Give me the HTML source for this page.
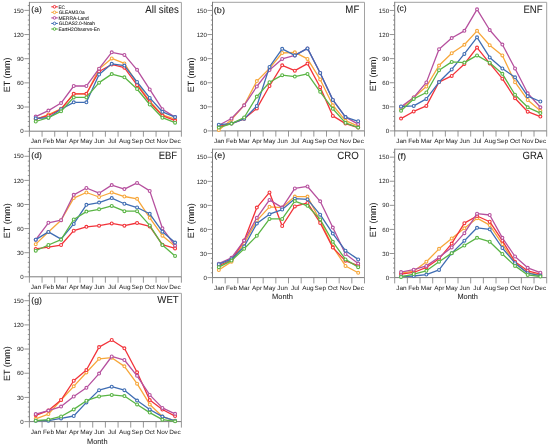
<!DOCTYPE html>
<html><head><meta charset="utf-8"><title>ET seasonal cycles</title>
<style>
html,body{margin:0;padding:0;background:#fff;}
body{width:550px;height:446px;overflow:hidden;}
svg{display:block;filter:blur(0.3px);font-family:"Liberation Sans",sans-serif;text-rendering:geometricPrecision;}
text{stroke:#222;stroke-width:0.05px;}
.sm text{stroke:none;}
.lg text{stroke:#222;stroke-width:0.08px;}
.pl text{stroke-width:0.1px;}
</style></head><body>
<svg width="550" height="446" viewBox="0 0 550 446">
<rect width="550" height="446" fill="#ffffff"/>
<g><path d="M29.4 2.4H181.4V131.2" fill="none" stroke="#a2a2a2" stroke-width="1.0"/><path d="M29.4 1.9V131.2H181.4" fill="none" stroke="#7c7c7c" stroke-width="1.0"/><path d="M24.4 131.2H29.4M27.8 126.37H29.4M27.8 121.53H29.4M27.8 116.7H29.4M27.8 111.87H29.4M24.4 107.03H29.4M27.8 102.2H29.4M27.8 97.37H29.4M27.8 92.54H29.4M27.8 87.7H29.4M24.4 82.87H29.4M27.8 78.04H29.4M27.8 73.2H29.4M27.8 68.37H29.4M27.8 63.54H29.4M24.4 58.7H29.4M27.8 53.87H29.4M27.8 49.04H29.4M27.8 44.21H29.4M27.8 39.37H29.4M24.4 34.54H29.4M27.8 29.71H29.4M27.8 24.87H29.4M27.8 20.04H29.4M27.8 15.21H29.4M24.4 10.37H29.4M27.8 5.54H29.4M29.4 131.2V136.7M42.07 131.2V136.7M54.73 131.2V136.7M67.4 131.2V136.7M80.07 131.2V136.7M92.73 131.2V136.7M105.4 131.2V136.7M118.07 131.2V136.7M130.73 131.2V136.7M143.4 131.2V136.7M156.07 131.2V136.7M168.73 131.2V136.7M181.4 131.2V136.7" stroke="#7c7c7c" stroke-width="0.8" fill="none"/><g class="sm" font-size="6.1" fill="#222"><text x="20.35" y="133.35">0</text><text x="16.95" y="109.19">30</text><text x="16.95" y="85.02">60</text><text x="16.95" y="60.85">90</text><text x="13.56" y="36.69">120</text><text x="13.56" y="12.52">150</text></g><g class="sm" fill="#222"><text x="30.88" y="143.3" font-size="6.1" textLength="10.43" lengthAdjust="spacingAndGlyphs">Jan</text><text x="42.9" y="143.3" font-size="6.1" textLength="11.14" lengthAdjust="spacingAndGlyphs">Feb</text><text x="55.49" y="143.3" font-size="6.1" textLength="11.14" lengthAdjust="spacingAndGlyphs">Mar</text><text x="68.95" y="143.3" font-size="6.1" textLength="10.06" lengthAdjust="spacingAndGlyphs">Apr</text><text x="80.23" y="143.3" font-size="6.1" textLength="12.22" lengthAdjust="spacingAndGlyphs">May</text><text x="94.21" y="143.3" font-size="6.1" textLength="10.43" lengthAdjust="spacingAndGlyphs">Jun</text><text x="107.97" y="143.3" font-size="6.1" textLength="8.27" lengthAdjust="spacingAndGlyphs">Jul</text><text x="119.05" y="143.3" font-size="6.1" textLength="11.5" lengthAdjust="spacingAndGlyphs">Aug</text><text x="131.5" y="143.3" font-size="6.1" textLength="11.5" lengthAdjust="spacingAndGlyphs">Sep</text><text x="144.77" y="143.3" font-size="6.1" textLength="10.06" lengthAdjust="spacingAndGlyphs">Oct</text><text x="156.6" y="143.3" font-size="6.1" textLength="11.5" lengthAdjust="spacingAndGlyphs">Nov</text><text x="169.34" y="143.3" font-size="6.1" textLength="11.5" lengthAdjust="spacingAndGlyphs">Dec</text></g><text transform="translate(9.6 92.34) rotate(-90)" font-size="9" fill="#222">ET (mm)</text><g class="pl" fill="#222"><text x="31.37" y="12.24" font-size="8.4" textLength="10.35" lengthAdjust="spacingAndGlyphs">(a)</text></g><g fill="#222"><text transform="translate(145.33 12.6) scale(1 1.08)" font-size="9.8" textLength="33.47" lengthAdjust="spacingAndGlyphs">All sites</text></g><path d="M35.73 119.26 L48.4 114.52 L61.07 108.81 L73.73 93.96 L86.4 93.96 L99.07 69.06 L111.73 58.46 L124.4 63.44 L137.07 83.52 L149.73 101.19 L162.4 114.84 L175.07 119.17" stroke="#f7a73b" stroke-width="1.3" fill="none" stroke-linejoin="round"/><g fill="#ffffff" stroke="#f7a73b" stroke-width="1.1"><circle cx="35.73" cy="119.26" r="1.45"/><circle cx="48.4" cy="114.52" r="1.45"/><circle cx="61.07" cy="108.81" r="1.45"/><circle cx="73.73" cy="93.96" r="1.45"/><circle cx="86.4" cy="93.96" r="1.45"/><circle cx="99.07" cy="69.06" r="1.45"/><circle cx="111.73" cy="58.46" r="1.45"/><circle cx="124.4" cy="63.44" r="1.45"/><circle cx="137.07" cy="83.52" r="1.45"/><circle cx="149.73" cy="101.19" r="1.45"/><circle cx="162.4" cy="114.84" r="1.45"/><circle cx="175.07" cy="119.17" r="1.45"/></g><path d="M35.73 119.09 L48.4 115.48 L61.07 109.14 L73.73 93.8 L86.4 93.8 L99.07 71.47 L111.73 64.48 L124.4 67.7 L137.07 85.2 L149.73 102.23 L162.4 115.64 L175.07 120.54" stroke="#f2333a" stroke-width="1.3" fill="none" stroke-linejoin="round"/><g fill="#ffffff" stroke="#f2333a" stroke-width="1.1"><circle cx="35.73" cy="119.09" r="1.45"/><circle cx="48.4" cy="115.48" r="1.45"/><circle cx="61.07" cy="109.14" r="1.45"/><circle cx="73.73" cy="93.8" r="1.45"/><circle cx="86.4" cy="93.8" r="1.45"/><circle cx="99.07" cy="71.47" r="1.45"/><circle cx="111.73" cy="64.48" r="1.45"/><circle cx="124.4" cy="67.7" r="1.45"/><circle cx="137.07" cy="85.2" r="1.45"/><circle cx="149.73" cy="102.23" r="1.45"/><circle cx="162.4" cy="115.64" r="1.45"/><circle cx="175.07" cy="120.54" r="1.45"/></g><path d="M35.73 116.6 L48.4 110.58 L61.07 103.03 L73.73 86.01 L86.4 86.01 L99.07 68.66 L111.73 52.36 L124.4 54.93 L137.07 69.86 L149.73 89.38 L162.4 109.22 L175.07 117.09" stroke="#b6509e" stroke-width="1.3" fill="none" stroke-linejoin="round"/><g fill="#ffffff" stroke="#b6509e" stroke-width="1.1"><circle cx="35.73" cy="116.6" r="1.45"/><circle cx="48.4" cy="110.58" r="1.45"/><circle cx="61.07" cy="103.03" r="1.45"/><circle cx="73.73" cy="86.01" r="1.45"/><circle cx="86.4" cy="86.01" r="1.45"/><circle cx="99.07" cy="68.66" r="1.45"/><circle cx="111.73" cy="52.36" r="1.45"/><circle cx="124.4" cy="54.93" r="1.45"/><circle cx="137.07" cy="69.86" r="1.45"/><circle cx="149.73" cy="89.38" r="1.45"/><circle cx="162.4" cy="109.22" r="1.45"/><circle cx="175.07" cy="117.09" r="1.45"/></g><path d="M35.73 118.29 L48.4 117.73 L61.07 109.22 L73.73 102.31 L86.4 102.31 L99.07 74.52 L111.73 63.84 L124.4 65.61 L137.07 81.99 L149.73 97.89 L162.4 111.79 L175.07 117.09" stroke="#3f6db3" stroke-width="1.3" fill="none" stroke-linejoin="round"/><g fill="#ffffff" stroke="#3f6db3" stroke-width="1.1"><circle cx="35.73" cy="118.29" r="1.45"/><circle cx="48.4" cy="117.73" r="1.45"/><circle cx="61.07" cy="109.22" r="1.45"/><circle cx="73.73" cy="102.31" r="1.45"/><circle cx="86.4" cy="102.31" r="1.45"/><circle cx="99.07" cy="74.52" r="1.45"/><circle cx="111.73" cy="63.84" r="1.45"/><circle cx="124.4" cy="65.61" r="1.45"/><circle cx="137.07" cy="81.99" r="1.45"/><circle cx="149.73" cy="97.89" r="1.45"/><circle cx="162.4" cy="111.79" r="1.45"/><circle cx="175.07" cy="117.09" r="1.45"/></g><path d="M35.73 121.5 L48.4 117.73 L61.07 111.3 L73.73 97.41 L86.4 97.41 L99.07 82.63 L111.73 74.12 L124.4 77.33 L137.07 88.98 L149.73 104.48 L162.4 117.73 L175.07 122.63" stroke="#5ab545" stroke-width="1.3" fill="none" stroke-linejoin="round"/><g fill="#ffffff" stroke="#5ab545" stroke-width="1.1"><circle cx="35.73" cy="121.5" r="1.45"/><circle cx="48.4" cy="117.73" r="1.45"/><circle cx="61.07" cy="111.3" r="1.45"/><circle cx="73.73" cy="97.41" r="1.45"/><circle cx="86.4" cy="97.41" r="1.45"/><circle cx="99.07" cy="82.63" r="1.45"/><circle cx="111.73" cy="74.12" r="1.45"/><circle cx="124.4" cy="77.33" r="1.45"/><circle cx="137.07" cy="88.98" r="1.45"/><circle cx="149.73" cy="104.48" r="1.45"/><circle cx="162.4" cy="117.73" r="1.45"/><circle cx="175.07" cy="122.63" r="1.45"/></g></g>
<g><path d="M212.5 2.3H364.5V130.9" fill="none" stroke="#a2a2a2" stroke-width="1.0"/><path d="M212.5 1.8V130.9H364.5" fill="none" stroke="#7c7c7c" stroke-width="1.0"/><path d="M207.5 130.9H212.5M210.9 126.08H212.5M210.9 121.26H212.5M210.9 116.45H212.5M210.9 111.63H212.5M207.5 106.81H212.5M210.9 101.99H212.5M210.9 97.17H212.5M210.9 92.36H212.5M210.9 87.54H212.5M207.5 82.72H212.5M210.9 77.9H212.5M210.9 73.08H212.5M210.9 68.27H212.5M210.9 63.45H212.5M207.5 58.63H212.5M210.9 53.81H212.5M210.9 48.99H212.5M210.9 44.18H212.5M210.9 39.36H212.5M207.5 34.54H212.5M210.9 29.72H212.5M210.9 24.9H212.5M210.9 20.09H212.5M210.9 15.27H212.5M207.5 10.45H212.5M210.9 5.63H212.5M212.5 130.9V136.6M225.17 130.9V136.6M237.83 130.9V136.6M250.5 130.9V136.6M263.17 130.9V136.6M275.83 130.9V136.6M288.5 130.9V136.6M301.17 130.9V136.6M313.83 130.9V136.6M326.5 130.9V136.6M339.17 130.9V136.6M351.83 130.9V136.6M364.5 130.9V136.6" stroke="#7c7c7c" stroke-width="0.8" fill="none"/><g class="sm" font-size="6.1" fill="#222"><text x="203.45" y="133.05">0</text><text x="200.05" y="108.96">30</text><text x="200.05" y="84.87">60</text><text x="200.05" y="60.78">90</text><text x="196.66" y="36.69">120</text><text x="196.66" y="12.6">150</text></g><g class="sm" fill="#222"><text x="213.98" y="143.3" font-size="6.1" textLength="10.43" lengthAdjust="spacingAndGlyphs">Jan</text><text x="226" y="143.3" font-size="6.1" textLength="11.14" lengthAdjust="spacingAndGlyphs">Feb</text><text x="238.59" y="143.3" font-size="6.1" textLength="11.14" lengthAdjust="spacingAndGlyphs">Mar</text><text x="252.05" y="143.3" font-size="6.1" textLength="10.06" lengthAdjust="spacingAndGlyphs">Apr</text><text x="263.33" y="143.3" font-size="6.1" textLength="12.22" lengthAdjust="spacingAndGlyphs">May</text><text x="277.31" y="143.3" font-size="6.1" textLength="10.43" lengthAdjust="spacingAndGlyphs">Jun</text><text x="291.07" y="143.3" font-size="6.1" textLength="8.27" lengthAdjust="spacingAndGlyphs">Jul</text><text x="302.15" y="143.3" font-size="6.1" textLength="11.5" lengthAdjust="spacingAndGlyphs">Aug</text><text x="314.6" y="143.3" font-size="6.1" textLength="11.5" lengthAdjust="spacingAndGlyphs">Sep</text><text x="327.87" y="143.3" font-size="6.1" textLength="10.06" lengthAdjust="spacingAndGlyphs">Oct</text><text x="339.7" y="143.3" font-size="6.1" textLength="11.5" lengthAdjust="spacingAndGlyphs">Nov</text><text x="352.44" y="143.3" font-size="6.1" textLength="11.5" lengthAdjust="spacingAndGlyphs">Dec</text></g><text transform="translate(193.6 92.34) rotate(-90)" font-size="9" fill="#222">ET (mm)</text><g class="pl" fill="#222"><text x="213.84" y="12.64" font-size="8.4" textLength="11.13" lengthAdjust="spacingAndGlyphs">(b)</text></g><g fill="#222"><text transform="translate(345.36 12.9) scale(1 1.1)" font-size="9.8" textLength="13.98" lengthAdjust="spacingAndGlyphs">MF</text></g><path d="M218.83 130.02 L231.5 119.66 L244.17 105.28 L256.83 81.11 L269.5 68.42 L282.17 53 L294.83 52.36 L307.5 58.94 L320.17 79.42 L332.83 105.28 L345.5 120.62 L358.17 126.08" stroke="#f7a73b" stroke-width="1.3" fill="none" stroke-linejoin="round"/><g fill="#ffffff" stroke="#f7a73b" stroke-width="1.1"><circle cx="218.83" cy="130.02" r="1.45"/><circle cx="231.5" cy="119.66" r="1.45"/><circle cx="244.17" cy="105.28" r="1.45"/><circle cx="256.83" cy="81.11" r="1.45"/><circle cx="269.5" cy="68.42" r="1.45"/><circle cx="282.17" cy="53" r="1.45"/><circle cx="294.83" cy="52.36" r="1.45"/><circle cx="307.5" cy="58.94" r="1.45"/><circle cx="320.17" cy="79.42" r="1.45"/><circle cx="332.83" cy="105.28" r="1.45"/><circle cx="345.5" cy="120.62" r="1.45"/><circle cx="358.17" cy="126.08" r="1.45"/></g><path d="M218.83 126.48 L231.5 123.59 L244.17 118.85 L256.83 108.41 L269.5 86.01 L282.17 65.29 L294.83 70.67 L307.5 63.6 L320.17 87.21 L332.83 115.88 L345.5 123.59 L358.17 127.61" stroke="#f2333a" stroke-width="1.3" fill="none" stroke-linejoin="round"/><g fill="#ffffff" stroke="#f2333a" stroke-width="1.1"><circle cx="218.83" cy="126.48" r="1.45"/><circle cx="231.5" cy="123.59" r="1.45"/><circle cx="244.17" cy="118.85" r="1.45"/><circle cx="256.83" cy="108.41" r="1.45"/><circle cx="269.5" cy="86.01" r="1.45"/><circle cx="282.17" cy="65.29" r="1.45"/><circle cx="294.83" cy="70.67" r="1.45"/><circle cx="307.5" cy="63.6" r="1.45"/><circle cx="320.17" cy="87.21" r="1.45"/><circle cx="332.83" cy="115.88" r="1.45"/><circle cx="345.5" cy="123.59" r="1.45"/><circle cx="358.17" cy="127.61" r="1.45"/></g><path d="M218.83 125.28 L231.5 118.53 L244.17 105.28 L256.83 86.49 L269.5 70.03 L282.17 58.94 L294.83 55.41 L307.5 48.42 L320.17 73 L332.83 99.9 L345.5 117.09 L358.17 124.07" stroke="#b6509e" stroke-width="1.3" fill="none" stroke-linejoin="round"/><g fill="#ffffff" stroke="#b6509e" stroke-width="1.1"><circle cx="218.83" cy="125.28" r="1.45"/><circle cx="231.5" cy="118.53" r="1.45"/><circle cx="244.17" cy="105.28" r="1.45"/><circle cx="256.83" cy="86.49" r="1.45"/><circle cx="269.5" cy="70.03" r="1.45"/><circle cx="282.17" cy="58.94" r="1.45"/><circle cx="294.83" cy="55.41" r="1.45"/><circle cx="307.5" cy="48.42" r="1.45"/><circle cx="320.17" cy="73" r="1.45"/><circle cx="332.83" cy="99.9" r="1.45"/><circle cx="345.5" cy="117.09" r="1.45"/><circle cx="358.17" cy="124.07" r="1.45"/></g><path d="M218.83 124.64 L231.5 123.59 L244.17 118.85 L256.83 106 L269.5 66.89 L282.17 48.82 L294.83 55.41 L307.5 48.42 L320.17 73 L332.83 99.9 L345.5 117.09 L358.17 121.26" stroke="#3f6db3" stroke-width="1.3" fill="none" stroke-linejoin="round"/><g fill="#ffffff" stroke="#3f6db3" stroke-width="1.1"><circle cx="218.83" cy="124.64" r="1.45"/><circle cx="231.5" cy="123.59" r="1.45"/><circle cx="244.17" cy="118.85" r="1.45"/><circle cx="256.83" cy="106" r="1.45"/><circle cx="269.5" cy="66.89" r="1.45"/><circle cx="282.17" cy="48.82" r="1.45"/><circle cx="294.83" cy="55.41" r="1.45"/><circle cx="307.5" cy="48.42" r="1.45"/><circle cx="320.17" cy="73" r="1.45"/><circle cx="332.83" cy="99.9" r="1.45"/><circle cx="345.5" cy="117.09" r="1.45"/><circle cx="358.17" cy="121.26" r="1.45"/></g><path d="M218.83 127.61 L231.5 123.59 L244.17 117.49 L256.83 96.61 L269.5 82.23 L282.17 75.16 L294.83 76.61 L307.5 73.96 L320.17 91.87 L332.83 108.81 L345.5 122.87 L358.17 127.61" stroke="#5ab545" stroke-width="1.3" fill="none" stroke-linejoin="round"/><g fill="#ffffff" stroke="#5ab545" stroke-width="1.1"><circle cx="218.83" cy="127.61" r="1.45"/><circle cx="231.5" cy="123.59" r="1.45"/><circle cx="244.17" cy="117.49" r="1.45"/><circle cx="256.83" cy="96.61" r="1.45"/><circle cx="269.5" cy="82.23" r="1.45"/><circle cx="282.17" cy="75.16" r="1.45"/><circle cx="294.83" cy="76.61" r="1.45"/><circle cx="307.5" cy="73.96" r="1.45"/><circle cx="320.17" cy="91.87" r="1.45"/><circle cx="332.83" cy="108.81" r="1.45"/><circle cx="345.5" cy="122.87" r="1.45"/><circle cx="358.17" cy="127.61" r="1.45"/></g></g>
<g><path d="M394.7 2.3H546.7V130.9" fill="none" stroke="#a2a2a2" stroke-width="1.0"/><path d="M394.7 1.8V130.9H546.7" fill="none" stroke="#7c7c7c" stroke-width="1.0"/><path d="M389.7 130.9H394.7M393.1 126.08H394.7M393.1 121.26H394.7M393.1 116.45H394.7M393.1 111.63H394.7M389.7 106.81H394.7M393.1 101.99H394.7M393.1 97.17H394.7M393.1 92.36H394.7M393.1 87.54H394.7M389.7 82.72H394.7M393.1 77.9H394.7M393.1 73.08H394.7M393.1 68.27H394.7M393.1 63.45H394.7M389.7 58.63H394.7M393.1 53.81H394.7M393.1 48.99H394.7M393.1 44.18H394.7M393.1 39.36H394.7M389.7 34.54H394.7M393.1 29.72H394.7M393.1 24.9H394.7M393.1 20.09H394.7M393.1 15.27H394.7M389.7 10.45H394.7M393.1 5.63H394.7M394.7 130.9V136.6M407.37 130.9V136.6M420.03 130.9V136.6M432.7 130.9V136.6M445.37 130.9V136.6M458.03 130.9V136.6M470.7 130.9V136.6M483.37 130.9V136.6M496.03 130.9V136.6M508.7 130.9V136.6M521.37 130.9V136.6M534.03 130.9V136.6M546.7 130.9V136.6" stroke="#7c7c7c" stroke-width="0.8" fill="none"/><g class="sm" font-size="6.1" fill="#222"><text x="385.65" y="133.05">0</text><text x="382.25" y="108.96">30</text><text x="382.25" y="84.87">60</text><text x="382.25" y="60.78">90</text><text x="378.86" y="36.69">120</text><text x="378.86" y="12.6">150</text></g><g class="sm" fill="#222"><text x="396.18" y="143.3" font-size="6.1" textLength="10.43" lengthAdjust="spacingAndGlyphs">Jan</text><text x="408.2" y="143.3" font-size="6.1" textLength="11.14" lengthAdjust="spacingAndGlyphs">Feb</text><text x="420.79" y="143.3" font-size="6.1" textLength="11.14" lengthAdjust="spacingAndGlyphs">Mar</text><text x="434.25" y="143.3" font-size="6.1" textLength="10.06" lengthAdjust="spacingAndGlyphs">Apr</text><text x="445.53" y="143.3" font-size="6.1" textLength="12.22" lengthAdjust="spacingAndGlyphs">May</text><text x="459.51" y="143.3" font-size="6.1" textLength="10.43" lengthAdjust="spacingAndGlyphs">Jun</text><text x="473.27" y="143.3" font-size="6.1" textLength="8.27" lengthAdjust="spacingAndGlyphs">Jul</text><text x="484.35" y="143.3" font-size="6.1" textLength="11.5" lengthAdjust="spacingAndGlyphs">Aug</text><text x="496.8" y="143.3" font-size="6.1" textLength="11.5" lengthAdjust="spacingAndGlyphs">Sep</text><text x="510.07" y="143.3" font-size="6.1" textLength="10.06" lengthAdjust="spacingAndGlyphs">Oct</text><text x="521.9" y="143.3" font-size="6.1" textLength="11.5" lengthAdjust="spacingAndGlyphs">Nov</text><text x="534.64" y="143.3" font-size="6.1" textLength="11.5" lengthAdjust="spacingAndGlyphs">Dec</text></g><text transform="translate(375.6 91.24) rotate(-90)" font-size="9" fill="#222">ET (mm)</text><g class="pl" fill="#222"><text x="396.66" y="10.74" font-size="8.4" textLength="10.07" lengthAdjust="spacingAndGlyphs">(c)</text></g><g fill="#222"><text transform="translate(523.46 12.7) scale(1 1.1)" font-size="9.8" textLength="19.17" lengthAdjust="spacingAndGlyphs">ENF</text></g><path d="M401.03 108.41 L413.7 97.49 L426.37 86.57 L439.03 65.53 L451.7 53.24 L464.37 44.81 L477.03 30.83 L489.7 45.21 L502.37 55.41 L515.03 82.23 L527.7 99.98 L540.37 110.82" stroke="#f7a73b" stroke-width="1.3" fill="none" stroke-linejoin="round"/><g fill="#ffffff" stroke="#f7a73b" stroke-width="1.1"><circle cx="401.03" cy="108.41" r="1.45"/><circle cx="413.7" cy="97.49" r="1.45"/><circle cx="426.37" cy="86.57" r="1.45"/><circle cx="439.03" cy="65.53" r="1.45"/><circle cx="451.7" cy="53.24" r="1.45"/><circle cx="464.37" cy="44.81" r="1.45"/><circle cx="477.03" cy="30.83" r="1.45"/><circle cx="489.7" cy="45.21" r="1.45"/><circle cx="502.37" cy="55.41" r="1.45"/><circle cx="515.03" cy="82.23" r="1.45"/><circle cx="527.7" cy="99.98" r="1.45"/><circle cx="540.37" cy="110.82" r="1.45"/></g><path d="M401.03 118.61 L413.7 111.46 L426.37 105.92 L439.03 82.07 L451.7 75.89 L464.37 64 L477.03 47.54 L489.7 63.44 L502.37 78.7 L515.03 98.29 L527.7 111.71 L540.37 116.6" stroke="#f2333a" stroke-width="1.3" fill="none" stroke-linejoin="round"/><g fill="#ffffff" stroke="#f2333a" stroke-width="1.1"><circle cx="401.03" cy="118.61" r="1.45"/><circle cx="413.7" cy="111.46" r="1.45"/><circle cx="426.37" cy="105.92" r="1.45"/><circle cx="439.03" cy="82.07" r="1.45"/><circle cx="451.7" cy="75.89" r="1.45"/><circle cx="464.37" cy="64" r="1.45"/><circle cx="477.03" cy="47.54" r="1.45"/><circle cx="489.7" cy="63.44" r="1.45"/><circle cx="502.37" cy="78.7" r="1.45"/><circle cx="515.03" cy="98.29" r="1.45"/><circle cx="527.7" cy="111.71" r="1.45"/><circle cx="540.37" cy="116.6" r="1.45"/></g><path d="M401.03 106.81 L413.7 97.49 L426.37 82.39 L439.03 49.22 L451.7 38.06 L464.37 30.83 L477.03 9.31 L489.7 30.03 L502.37 44.57 L515.03 68.5 L527.7 93.31 L540.37 107.29" stroke="#b6509e" stroke-width="1.3" fill="none" stroke-linejoin="round"/><g fill="#ffffff" stroke="#b6509e" stroke-width="1.1"><circle cx="401.03" cy="106.81" r="1.45"/><circle cx="413.7" cy="97.49" r="1.45"/><circle cx="426.37" cy="82.39" r="1.45"/><circle cx="439.03" cy="49.22" r="1.45"/><circle cx="451.7" cy="38.06" r="1.45"/><circle cx="464.37" cy="30.83" r="1.45"/><circle cx="477.03" cy="9.31" r="1.45"/><circle cx="489.7" cy="30.03" r="1.45"/><circle cx="502.37" cy="44.57" r="1.45"/><circle cx="515.03" cy="68.5" r="1.45"/><circle cx="527.7" cy="93.31" r="1.45"/><circle cx="540.37" cy="107.29" r="1.45"/></g><path d="M401.03 106.49 L413.7 105.92 L426.37 98.94 L439.03 82.07 L451.7 69.46 L464.37 53.96 L477.03 37.34 L489.7 57.42 L502.37 68.5 L515.03 77.33 L527.7 96.21 L540.37 101.51" stroke="#3f6db3" stroke-width="1.3" fill="none" stroke-linejoin="round"/><g fill="#ffffff" stroke="#3f6db3" stroke-width="1.1"><circle cx="401.03" cy="106.49" r="1.45"/><circle cx="413.7" cy="105.92" r="1.45"/><circle cx="426.37" cy="98.94" r="1.45"/><circle cx="439.03" cy="82.07" r="1.45"/><circle cx="451.7" cy="69.46" r="1.45"/><circle cx="464.37" cy="53.96" r="1.45"/><circle cx="477.03" cy="37.34" r="1.45"/><circle cx="489.7" cy="57.42" r="1.45"/><circle cx="502.37" cy="68.5" r="1.45"/><circle cx="515.03" cy="77.33" r="1.45"/><circle cx="527.7" cy="96.21" r="1.45"/><circle cx="540.37" cy="101.51" r="1.45"/></g><path d="M401.03 110.82 L413.7 98.94 L426.37 92.51 L439.03 70.27 L451.7 61.91 L464.37 62.56 L477.03 55.41 L489.7 62.72 L502.37 73.8 L515.03 94.76 L527.7 107.29 L540.37 113.07" stroke="#5ab545" stroke-width="1.3" fill="none" stroke-linejoin="round"/><g fill="#ffffff" stroke="#5ab545" stroke-width="1.1"><circle cx="401.03" cy="110.82" r="1.45"/><circle cx="413.7" cy="98.94" r="1.45"/><circle cx="426.37" cy="92.51" r="1.45"/><circle cx="439.03" cy="70.27" r="1.45"/><circle cx="451.7" cy="61.91" r="1.45"/><circle cx="464.37" cy="62.56" r="1.45"/><circle cx="477.03" cy="55.41" r="1.45"/><circle cx="489.7" cy="62.72" r="1.45"/><circle cx="502.37" cy="73.8" r="1.45"/><circle cx="515.03" cy="94.76" r="1.45"/><circle cx="527.7" cy="107.29" r="1.45"/><circle cx="540.37" cy="113.07" r="1.45"/></g></g>
<g><path d="M29.4 148.4H181.4V276.8" fill="none" stroke="#a2a2a2" stroke-width="1.0"/><path d="M29.4 147.9V276.8H181.4" fill="none" stroke="#7c7c7c" stroke-width="1.0"/><path d="M24.4 276.8H29.4M27.8 271.98H29.4M27.8 267.16H29.4M27.8 262.34H29.4M27.8 257.52H29.4M24.4 252.7H29.4M27.8 247.87H29.4M27.8 243.05H29.4M27.8 238.23H29.4M27.8 233.41H29.4M24.4 228.59H29.4M27.8 223.77H29.4M27.8 218.95H29.4M27.8 214.13H29.4M27.8 209.31H29.4M24.4 204.49H29.4M27.8 199.66H29.4M27.8 194.84H29.4M27.8 190.02H29.4M27.8 185.2H29.4M24.4 180.38H29.4M27.8 175.56H29.4M27.8 170.74H29.4M27.8 165.92H29.4M27.8 161.1H29.4M24.4 156.28H29.4M27.8 151.45H29.4M29.4 276.8V282.7M42.07 276.8V282.7M54.73 276.8V282.7M67.4 276.8V282.7M80.07 276.8V282.7M92.73 276.8V282.7M105.4 276.8V282.7M118.07 276.8V282.7M130.73 276.8V282.7M143.4 276.8V282.7M156.07 276.8V282.7M168.73 276.8V282.7M181.4 276.8V282.7" stroke="#7c7c7c" stroke-width="0.8" fill="none"/><g class="sm" font-size="6.1" fill="#222"><text x="20.35" y="278.95">0</text><text x="16.95" y="254.85">30</text><text x="16.95" y="230.74">60</text><text x="16.95" y="206.64">90</text><text x="13.56" y="182.53">120</text><text x="13.56" y="158.43">150</text></g><g class="sm" fill="#222"><text x="30.88" y="289.2" font-size="6.1" textLength="10.43" lengthAdjust="spacingAndGlyphs">Jan</text><text x="42.9" y="289.2" font-size="6.1" textLength="11.14" lengthAdjust="spacingAndGlyphs">Feb</text><text x="55.49" y="289.2" font-size="6.1" textLength="11.14" lengthAdjust="spacingAndGlyphs">Mar</text><text x="68.95" y="289.2" font-size="6.1" textLength="10.06" lengthAdjust="spacingAndGlyphs">Apr</text><text x="80.23" y="289.2" font-size="6.1" textLength="12.22" lengthAdjust="spacingAndGlyphs">May</text><text x="94.21" y="289.2" font-size="6.1" textLength="10.43" lengthAdjust="spacingAndGlyphs">Jun</text><text x="107.97" y="289.2" font-size="6.1" textLength="8.27" lengthAdjust="spacingAndGlyphs">Jul</text><text x="119.05" y="289.2" font-size="6.1" textLength="11.5" lengthAdjust="spacingAndGlyphs">Aug</text><text x="131.5" y="289.2" font-size="6.1" textLength="11.5" lengthAdjust="spacingAndGlyphs">Sep</text><text x="144.77" y="289.2" font-size="6.1" textLength="10.06" lengthAdjust="spacingAndGlyphs">Oct</text><text x="156.6" y="289.2" font-size="6.1" textLength="11.5" lengthAdjust="spacingAndGlyphs">Nov</text><text x="169.34" y="289.2" font-size="6.1" textLength="11.5" lengthAdjust="spacingAndGlyphs">Dec</text></g><text transform="translate(9.6 238.14) rotate(-90)" font-size="9" fill="#222">ET (mm)</text><g class="pl" fill="#222"><text x="31.36" y="157.54" font-size="8.4" textLength="10.68" lengthAdjust="spacingAndGlyphs">(d)</text></g><g fill="#222"><text transform="translate(158.67 159) scale(1 1.08)" font-size="9.8" textLength="18.46" lengthAdjust="spacingAndGlyphs">EBF</text></g><path d="M35.73 244.13 L48.4 231.93 L61.07 220.2 L73.73 198.12 L86.4 192.49 L99.07 196.99 L111.73 192.49 L124.4 196.51 L137.07 198.84 L149.73 217.79 L162.4 235.7 L175.07 246.3" stroke="#f7a73b" stroke-width="1.3" fill="none" stroke-linejoin="round"/><g fill="#ffffff" stroke="#f7a73b" stroke-width="1.1"><circle cx="35.73" cy="244.13" r="1.45"/><circle cx="48.4" cy="231.93" r="1.45"/><circle cx="61.07" cy="220.2" r="1.45"/><circle cx="73.73" cy="198.12" r="1.45"/><circle cx="86.4" cy="192.49" r="1.45"/><circle cx="99.07" cy="196.99" r="1.45"/><circle cx="111.73" cy="192.49" r="1.45"/><circle cx="124.4" cy="196.51" r="1.45"/><circle cx="137.07" cy="198.84" r="1.45"/><circle cx="149.73" cy="217.79" r="1.45"/><circle cx="162.4" cy="235.7" r="1.45"/><circle cx="175.07" cy="246.3" r="1.45"/></g><path d="M35.73 248.95 L48.4 247.02 L61.07 245.02 L73.73 230.64 L86.4 226.79 L99.07 225.66 L111.73 223.41 L124.4 225.66 L137.07 223.01 L149.73 226.47 L162.4 244.7 L175.07 248.47" stroke="#f2333a" stroke-width="1.3" fill="none" stroke-linejoin="round"/><g fill="#ffffff" stroke="#f2333a" stroke-width="1.1"><circle cx="35.73" cy="248.95" r="1.45"/><circle cx="48.4" cy="247.02" r="1.45"/><circle cx="61.07" cy="245.02" r="1.45"/><circle cx="73.73" cy="230.64" r="1.45"/><circle cx="86.4" cy="226.79" r="1.45"/><circle cx="99.07" cy="225.66" r="1.45"/><circle cx="111.73" cy="223.41" r="1.45"/><circle cx="124.4" cy="225.66" r="1.45"/><circle cx="137.07" cy="223.01" r="1.45"/><circle cx="149.73" cy="226.47" r="1.45"/><circle cx="162.4" cy="244.7" r="1.45"/><circle cx="175.07" cy="248.47" r="1.45"/></g><path d="M35.73 239.64 L48.4 222.77 L61.07 220.2 L73.73 194.82 L86.4 188 L99.07 193.22 L111.73 185.11 L124.4 189.12 L137.07 182.94 L149.73 190.89 L162.4 228.31 L175.07 245.58" stroke="#b6509e" stroke-width="1.3" fill="none" stroke-linejoin="round"/><g fill="#ffffff" stroke="#b6509e" stroke-width="1.1"><circle cx="35.73" cy="239.64" r="1.45"/><circle cx="48.4" cy="222.77" r="1.45"/><circle cx="61.07" cy="220.2" r="1.45"/><circle cx="73.73" cy="194.82" r="1.45"/><circle cx="86.4" cy="188" r="1.45"/><circle cx="99.07" cy="193.22" r="1.45"/><circle cx="111.73" cy="185.11" r="1.45"/><circle cx="124.4" cy="189.12" r="1.45"/><circle cx="137.07" cy="182.94" r="1.45"/><circle cx="149.73" cy="190.89" r="1.45"/><circle cx="162.4" cy="228.31" r="1.45"/><circle cx="175.07" cy="245.58" r="1.45"/></g><path d="M35.73 239.64 L48.4 231.93 L61.07 239.15 L73.73 223.9 L86.4 204.78 L99.07 202.61 L111.73 198.12 L124.4 203.74 L137.07 207.51 L149.73 213.78 L162.4 231.69 L175.07 242.53" stroke="#3f6db3" stroke-width="1.3" fill="none" stroke-linejoin="round"/><g fill="#ffffff" stroke="#3f6db3" stroke-width="1.1"><circle cx="35.73" cy="239.64" r="1.45"/><circle cx="48.4" cy="231.93" r="1.45"/><circle cx="61.07" cy="239.15" r="1.45"/><circle cx="73.73" cy="223.9" r="1.45"/><circle cx="86.4" cy="204.78" r="1.45"/><circle cx="99.07" cy="202.61" r="1.45"/><circle cx="111.73" cy="198.12" r="1.45"/><circle cx="124.4" cy="203.74" r="1.45"/><circle cx="137.07" cy="207.51" r="1.45"/><circle cx="149.73" cy="213.78" r="1.45"/><circle cx="162.4" cy="231.69" r="1.45"/><circle cx="175.07" cy="242.53" r="1.45"/></g><path d="M35.73 250.72 L48.4 245.02 L61.07 239.64 L73.73 219.48 L86.4 211.61 L99.07 209.28 L111.73 205.91 L124.4 211.13 L137.07 211.13 L149.73 225.42 L162.4 245.1 L175.07 255.94" stroke="#5ab545" stroke-width="1.3" fill="none" stroke-linejoin="round"/><g fill="#ffffff" stroke="#5ab545" stroke-width="1.1"><circle cx="35.73" cy="250.72" r="1.45"/><circle cx="48.4" cy="245.02" r="1.45"/><circle cx="61.07" cy="239.64" r="1.45"/><circle cx="73.73" cy="219.48" r="1.45"/><circle cx="86.4" cy="211.61" r="1.45"/><circle cx="99.07" cy="209.28" r="1.45"/><circle cx="111.73" cy="205.91" r="1.45"/><circle cx="124.4" cy="211.13" r="1.45"/><circle cx="137.07" cy="211.13" r="1.45"/><circle cx="149.73" cy="225.42" r="1.45"/><circle cx="162.4" cy="245.1" r="1.45"/><circle cx="175.07" cy="255.94" r="1.45"/></g></g>
<g><path d="M212.5 149.2H364.5V277.6" fill="none" stroke="#a2a2a2" stroke-width="1.0"/><path d="M212.5 148.7V277.6H364.5" fill="none" stroke="#7c7c7c" stroke-width="1.0"/><path d="M207.5 277.6H212.5M210.9 272.79H212.5M210.9 267.98H212.5M210.9 263.16H212.5M210.9 258.35H212.5M207.5 253.54H212.5M210.9 248.73H212.5M210.9 243.92H212.5M210.9 239.1H212.5M210.9 234.29H212.5M207.5 229.48H212.5M210.9 224.67H212.5M210.9 219.86H212.5M210.9 215.04H212.5M210.9 210.23H212.5M207.5 205.42H212.5M210.9 200.61H212.5M210.9 195.8H212.5M210.9 190.98H212.5M210.9 186.17H212.5M207.5 181.36H212.5M210.9 176.55H212.5M210.9 171.74H212.5M210.9 166.92H212.5M210.9 162.11H212.5M207.5 157.3H212.5M210.9 152.49H212.5M212.5 277.6V283.4M225.17 277.6V283.4M237.83 277.6V283.4M250.5 277.6V283.4M263.17 277.6V283.4M275.83 277.6V283.4M288.5 277.6V283.4M301.17 277.6V283.4M313.83 277.6V283.4M326.5 277.6V283.4M339.17 277.6V283.4M351.83 277.6V283.4M364.5 277.6V283.4" stroke="#7c7c7c" stroke-width="0.8" fill="none"/><g class="sm" font-size="6.1" fill="#222"><text x="203.45" y="279.75">0</text><text x="200.05" y="255.69">30</text><text x="200.05" y="231.63">60</text><text x="200.05" y="207.57">90</text><text x="196.66" y="183.51">120</text><text x="196.66" y="159.45">150</text></g><g class="sm" fill="#222"><text x="213.98" y="290" font-size="6.1" textLength="10.43" lengthAdjust="spacingAndGlyphs">Jan</text><text x="226" y="290" font-size="6.1" textLength="11.14" lengthAdjust="spacingAndGlyphs">Feb</text><text x="238.59" y="290" font-size="6.1" textLength="11.14" lengthAdjust="spacingAndGlyphs">Mar</text><text x="252.05" y="290" font-size="6.1" textLength="10.06" lengthAdjust="spacingAndGlyphs">Apr</text><text x="263.33" y="290" font-size="6.1" textLength="12.22" lengthAdjust="spacingAndGlyphs">May</text><text x="277.31" y="290" font-size="6.1" textLength="10.43" lengthAdjust="spacingAndGlyphs">Jun</text><text x="291.07" y="290" font-size="6.1" textLength="8.27" lengthAdjust="spacingAndGlyphs">Jul</text><text x="302.15" y="290" font-size="6.1" textLength="11.5" lengthAdjust="spacingAndGlyphs">Aug</text><text x="314.6" y="290" font-size="6.1" textLength="11.5" lengthAdjust="spacingAndGlyphs">Sep</text><text x="327.87" y="290" font-size="6.1" textLength="10.06" lengthAdjust="spacingAndGlyphs">Oct</text><text x="339.7" y="290" font-size="6.1" textLength="11.5" lengthAdjust="spacingAndGlyphs">Nov</text><text x="352.44" y="290" font-size="6.1" textLength="11.5" lengthAdjust="spacingAndGlyphs">Dec</text></g><text transform="translate(193.6 238.14) rotate(-90)" font-size="9" fill="#222">ET (mm)</text><g class="pl" fill="#222"><text x="214.35" y="157.54" font-size="8.4" textLength="10.91" lengthAdjust="spacingAndGlyphs">(e)</text></g><g fill="#222"><text transform="translate(337.36 159.3) scale(1 1.07)" font-size="9.8" textLength="21.56" lengthAdjust="spacingAndGlyphs">CRO</text></g><g fill="#222"><text x="272.09" y="299" font-size="7.6" textLength="20.8" lengthAdjust="spacingAndGlyphs">Month</text></g><path d="M218.83 269.99 L231.5 261.64 L244.17 243.17 L256.83 220.68 L269.5 206.87 L282.17 207.59 L294.83 196.59 L307.5 196.59 L320.17 220.68 L332.83 246.86 L345.5 265.98 L358.17 272.8" stroke="#f7a73b" stroke-width="1.3" fill="none" stroke-linejoin="round"/><g fill="#ffffff" stroke="#f7a73b" stroke-width="1.1"><circle cx="218.83" cy="269.99" r="1.45"/><circle cx="231.5" cy="261.64" r="1.45"/><circle cx="244.17" cy="243.17" r="1.45"/><circle cx="256.83" cy="220.68" r="1.45"/><circle cx="269.5" cy="206.87" r="1.45"/><circle cx="282.17" cy="207.59" r="1.45"/><circle cx="294.83" cy="196.59" r="1.45"/><circle cx="307.5" cy="196.59" r="1.45"/><circle cx="320.17" cy="220.68" r="1.45"/><circle cx="332.83" cy="246.86" r="1.45"/><circle cx="345.5" cy="265.98" r="1.45"/><circle cx="358.17" cy="272.8" r="1.45"/></g><path d="M218.83 265.66 L231.5 260.03 L244.17 240.6 L256.83 207.59 L269.5 192.41 L282.17 225.98 L294.83 206.47 L307.5 202.93 L320.17 222.93 L332.83 247.59 L345.5 260.84 L358.17 265.66" stroke="#f2333a" stroke-width="1.3" fill="none" stroke-linejoin="round"/><g fill="#ffffff" stroke="#f2333a" stroke-width="1.1"><circle cx="218.83" cy="265.66" r="1.45"/><circle cx="231.5" cy="260.03" r="1.45"/><circle cx="244.17" cy="240.6" r="1.45"/><circle cx="256.83" cy="207.59" r="1.45"/><circle cx="269.5" cy="192.41" r="1.45"/><circle cx="282.17" cy="225.98" r="1.45"/><circle cx="294.83" cy="206.47" r="1.45"/><circle cx="307.5" cy="202.93" r="1.45"/><circle cx="320.17" cy="222.93" r="1.45"/><circle cx="332.83" cy="247.59" r="1.45"/><circle cx="345.5" cy="260.84" r="1.45"/><circle cx="358.17" cy="265.66" r="1.45"/></g><path d="M218.83 263.65 L231.5 257.79 L244.17 240.6 L256.83 217.79 L269.5 199.88 L282.17 207.59 L294.83 188.4 L307.5 186.47 L320.17 201.33 L332.83 227.59 L345.5 254.01 L358.17 263.57" stroke="#b6509e" stroke-width="1.3" fill="none" stroke-linejoin="round"/><g fill="#ffffff" stroke="#b6509e" stroke-width="1.1"><circle cx="218.83" cy="263.65" r="1.45"/><circle cx="231.5" cy="257.79" r="1.45"/><circle cx="244.17" cy="240.6" r="1.45"/><circle cx="256.83" cy="217.79" r="1.45"/><circle cx="269.5" cy="199.88" r="1.45"/><circle cx="282.17" cy="207.59" r="1.45"/><circle cx="294.83" cy="188.4" r="1.45"/><circle cx="307.5" cy="186.47" r="1.45"/><circle cx="320.17" cy="201.33" r="1.45"/><circle cx="332.83" cy="227.59" r="1.45"/><circle cx="345.5" cy="254.01" r="1.45"/><circle cx="358.17" cy="263.57" r="1.45"/></g><path d="M218.83 264.13 L231.5 259.23 L244.17 246.46 L256.83 223.57 L269.5 214.18 L282.17 209.52 L294.83 198.68 L307.5 199.4 L320.17 214.66 L332.83 233.53 L345.5 250.72 L358.17 259.39" stroke="#3f6db3" stroke-width="1.3" fill="none" stroke-linejoin="round"/><g fill="#ffffff" stroke="#3f6db3" stroke-width="1.1"><circle cx="218.83" cy="264.13" r="1.45"/><circle cx="231.5" cy="259.23" r="1.45"/><circle cx="244.17" cy="246.46" r="1.45"/><circle cx="256.83" cy="223.57" r="1.45"/><circle cx="269.5" cy="214.18" r="1.45"/><circle cx="282.17" cy="209.52" r="1.45"/><circle cx="294.83" cy="198.68" r="1.45"/><circle cx="307.5" cy="199.4" r="1.45"/><circle cx="320.17" cy="214.66" r="1.45"/><circle cx="332.83" cy="233.53" r="1.45"/><circle cx="345.5" cy="250.72" r="1.45"/><circle cx="358.17" cy="259.39" r="1.45"/></g><path d="M218.83 267.18 L231.5 260.6 L244.17 248.79 L256.83 235.86 L269.5 218.92 L282.17 218.92 L294.83 201.09 L307.5 205.83 L320.17 219.4 L332.83 241.8 L345.5 259.39 L358.17 267.18" stroke="#5ab545" stroke-width="1.3" fill="none" stroke-linejoin="round"/><g fill="#ffffff" stroke="#5ab545" stroke-width="1.1"><circle cx="218.83" cy="267.18" r="1.45"/><circle cx="231.5" cy="260.6" r="1.45"/><circle cx="244.17" cy="248.79" r="1.45"/><circle cx="256.83" cy="235.86" r="1.45"/><circle cx="269.5" cy="218.92" r="1.45"/><circle cx="282.17" cy="218.92" r="1.45"/><circle cx="294.83" cy="201.09" r="1.45"/><circle cx="307.5" cy="205.83" r="1.45"/><circle cx="320.17" cy="219.4" r="1.45"/><circle cx="332.83" cy="241.8" r="1.45"/><circle cx="345.5" cy="259.39" r="1.45"/><circle cx="358.17" cy="267.18" r="1.45"/></g></g>
<g><path d="M394.7 149.2H546.7V277.6" fill="none" stroke="#a2a2a2" stroke-width="1.0"/><path d="M394.7 148.7V277.6H546.7" fill="none" stroke="#7c7c7c" stroke-width="1.0"/><path d="M389.7 277.6H394.7M393.1 272.78H394.7M393.1 267.96H394.7M393.1 263.15H394.7M393.1 258.33H394.7M389.7 253.51H394.7M393.1 248.69H394.7M393.1 243.87H394.7M393.1 239.06H394.7M393.1 234.24H394.7M389.7 229.42H394.7M393.1 224.6H394.7M393.1 219.78H394.7M393.1 214.97H394.7M393.1 210.15H394.7M389.7 205.33H394.7M393.1 200.51H394.7M393.1 195.69H394.7M393.1 190.88H394.7M393.1 186.06H394.7M389.7 181.24H394.7M393.1 176.42H394.7M393.1 171.6H394.7M393.1 166.79H394.7M393.1 161.97H394.7M389.7 157.15H394.7M393.1 152.33H394.7M394.7 277.6V283.4M407.37 277.6V283.4M420.03 277.6V283.4M432.7 277.6V283.4M445.37 277.6V283.4M458.03 277.6V283.4M470.7 277.6V283.4M483.37 277.6V283.4M496.03 277.6V283.4M508.7 277.6V283.4M521.37 277.6V283.4M534.03 277.6V283.4M546.7 277.6V283.4" stroke="#7c7c7c" stroke-width="0.8" fill="none"/><g class="sm" font-size="6.1" fill="#222"><text x="385.65" y="279.75">0</text><text x="382.25" y="255.66">30</text><text x="382.25" y="231.57">60</text><text x="382.25" y="207.48">90</text><text x="378.86" y="183.39">120</text><text x="378.86" y="159.3">150</text></g><g class="sm" fill="#222"><text x="396.18" y="290" font-size="6.1" textLength="10.43" lengthAdjust="spacingAndGlyphs">Jan</text><text x="408.2" y="290" font-size="6.1" textLength="11.14" lengthAdjust="spacingAndGlyphs">Feb</text><text x="420.79" y="290" font-size="6.1" textLength="11.14" lengthAdjust="spacingAndGlyphs">Mar</text><text x="434.25" y="290" font-size="6.1" textLength="10.06" lengthAdjust="spacingAndGlyphs">Apr</text><text x="445.53" y="290" font-size="6.1" textLength="12.22" lengthAdjust="spacingAndGlyphs">May</text><text x="459.51" y="290" font-size="6.1" textLength="10.43" lengthAdjust="spacingAndGlyphs">Jun</text><text x="473.27" y="290" font-size="6.1" textLength="8.27" lengthAdjust="spacingAndGlyphs">Jul</text><text x="484.35" y="290" font-size="6.1" textLength="11.5" lengthAdjust="spacingAndGlyphs">Aug</text><text x="496.8" y="290" font-size="6.1" textLength="11.5" lengthAdjust="spacingAndGlyphs">Sep</text><text x="510.07" y="290" font-size="6.1" textLength="10.06" lengthAdjust="spacingAndGlyphs">Oct</text><text x="521.9" y="290" font-size="6.1" textLength="11.5" lengthAdjust="spacingAndGlyphs">Nov</text><text x="534.64" y="290" font-size="6.1" textLength="11.5" lengthAdjust="spacingAndGlyphs">Dec</text></g><text transform="translate(375.6 237.24) rotate(-90)" font-size="9" fill="#222">ET (mm)</text><g class="pl" fill="#222"><text x="397.43" y="158.64" font-size="8.4" textLength="8.75" lengthAdjust="spacingAndGlyphs">(f)</text></g><g fill="#222"><text transform="translate(522.57 159) scale(1 1.07)" font-size="9.8" textLength="20.6" lengthAdjust="spacingAndGlyphs">GRA</text></g><g fill="#222"><text x="457.4" y="299" font-size="7.6" textLength="20.48" lengthAdjust="spacingAndGlyphs">Month</text></g><path d="M401.03 273.13 L413.7 271.2 L426.37 261.72 L439.03 248.87 L451.7 238.43 L464.37 228.31 L477.03 218.19 L489.7 225.1 L502.37 244.13 L515.03 263.25 L527.7 272.48 L540.37 275.29" stroke="#f7a73b" stroke-width="1.3" fill="none" stroke-linejoin="round"/><g fill="#ffffff" stroke="#f7a73b" stroke-width="1.1"><circle cx="401.03" cy="273.13" r="1.45"/><circle cx="413.7" cy="271.2" r="1.45"/><circle cx="426.37" cy="261.72" r="1.45"/><circle cx="439.03" cy="248.87" r="1.45"/><circle cx="451.7" cy="238.43" r="1.45"/><circle cx="464.37" cy="228.31" r="1.45"/><circle cx="477.03" cy="218.19" r="1.45"/><circle cx="489.7" cy="225.1" r="1.45"/><circle cx="502.37" cy="244.13" r="1.45"/><circle cx="515.03" cy="263.25" r="1.45"/><circle cx="527.7" cy="272.48" r="1.45"/><circle cx="540.37" cy="275.29" r="1.45"/></g><path d="M401.03 274.09 L413.7 272.48 L426.37 267.42 L439.03 258.83 L451.7 243.57 L464.37 223.17 L477.03 216.03 L489.7 221.73 L502.37 240.68 L515.03 261.72 L527.7 270.8 L540.37 274.01" stroke="#f2333a" stroke-width="1.3" fill="none" stroke-linejoin="round"/><g fill="#ffffff" stroke="#f2333a" stroke-width="1.1"><circle cx="401.03" cy="274.09" r="1.45"/><circle cx="413.7" cy="272.48" r="1.45"/><circle cx="426.37" cy="267.42" r="1.45"/><circle cx="439.03" cy="258.83" r="1.45"/><circle cx="451.7" cy="243.57" r="1.45"/><circle cx="464.37" cy="223.17" r="1.45"/><circle cx="477.03" cy="216.03" r="1.45"/><circle cx="489.7" cy="221.73" r="1.45"/><circle cx="502.37" cy="240.68" r="1.45"/><circle cx="515.03" cy="261.72" r="1.45"/><circle cx="527.7" cy="270.8" r="1.45"/><circle cx="540.37" cy="274.01" r="1.45"/></g><path d="M401.03 272.08 L413.7 269.67 L426.37 265.9 L439.03 257.3 L451.7 247.43 L464.37 233.13 L477.03 213.7 L489.7 214.98 L502.37 237.87 L515.03 256.5 L527.7 267.82 L540.37 272.72" stroke="#b6509e" stroke-width="1.3" fill="none" stroke-linejoin="round"/><g fill="#ffffff" stroke="#b6509e" stroke-width="1.1"><circle cx="401.03" cy="272.08" r="1.45"/><circle cx="413.7" cy="269.67" r="1.45"/><circle cx="426.37" cy="265.9" r="1.45"/><circle cx="439.03" cy="257.3" r="1.45"/><circle cx="451.7" cy="247.43" r="1.45"/><circle cx="464.37" cy="233.13" r="1.45"/><circle cx="477.03" cy="213.7" r="1.45"/><circle cx="489.7" cy="214.98" r="1.45"/><circle cx="502.37" cy="237.87" r="1.45"/><circle cx="515.03" cy="256.5" r="1.45"/><circle cx="527.7" cy="267.82" r="1.45"/><circle cx="540.37" cy="272.72" r="1.45"/></g><path d="M401.03 276.5 L413.7 276.02 L426.37 274.57 L439.03 269.91 L451.7 253.13 L464.37 240.68 L477.03 227.83 L489.7 229.28 L502.37 247.99 L515.03 263.17 L527.7 273.13 L540.37 275.7" stroke="#3f6db3" stroke-width="1.3" fill="none" stroke-linejoin="round"/><g fill="#ffffff" stroke="#3f6db3" stroke-width="1.1"><circle cx="401.03" cy="276.5" r="1.45"/><circle cx="413.7" cy="276.02" r="1.45"/><circle cx="426.37" cy="274.57" r="1.45"/><circle cx="439.03" cy="269.91" r="1.45"/><circle cx="451.7" cy="253.13" r="1.45"/><circle cx="464.37" cy="240.68" r="1.45"/><circle cx="477.03" cy="227.83" r="1.45"/><circle cx="489.7" cy="229.28" r="1.45"/><circle cx="502.37" cy="247.99" r="1.45"/><circle cx="515.03" cy="263.17" r="1.45"/><circle cx="527.7" cy="273.13" r="1.45"/><circle cx="540.37" cy="275.7" r="1.45"/></g><path d="M401.03 276.9 L413.7 274.01 L426.37 270.8 L439.03 261.72 L451.7 253.13 L464.37 245.5 L477.03 237.87 L489.7 241.72 L502.37 254.01 L515.03 265.9 L527.7 274.97 L540.37 276.5" stroke="#5ab545" stroke-width="1.3" fill="none" stroke-linejoin="round"/><g fill="#ffffff" stroke="#5ab545" stroke-width="1.1"><circle cx="401.03" cy="276.9" r="1.45"/><circle cx="413.7" cy="274.01" r="1.45"/><circle cx="426.37" cy="270.8" r="1.45"/><circle cx="439.03" cy="261.72" r="1.45"/><circle cx="451.7" cy="253.13" r="1.45"/><circle cx="464.37" cy="245.5" r="1.45"/><circle cx="477.03" cy="237.87" r="1.45"/><circle cx="489.7" cy="241.72" r="1.45"/><circle cx="502.37" cy="254.01" r="1.45"/><circle cx="515.03" cy="265.9" r="1.45"/><circle cx="527.7" cy="274.97" r="1.45"/><circle cx="540.37" cy="276.5" r="1.45"/></g></g>
<g><path d="M29.4 293.3H181.4V421.6" fill="none" stroke="#a2a2a2" stroke-width="1.0"/><path d="M29.4 292.8V421.6H181.4" fill="none" stroke="#7c7c7c" stroke-width="1.0"/><path d="M24.4 421.6H29.4M27.8 416.76H29.4M27.8 411.93H29.4M27.8 407.09H29.4M27.8 402.26H29.4M24.4 397.42H29.4M27.8 392.58H29.4M27.8 387.75H29.4M27.8 382.91H29.4M27.8 378.08H29.4M24.4 373.24H29.4M27.8 368.4H29.4M27.8 363.57H29.4M27.8 358.73H29.4M27.8 353.9H29.4M24.4 349.06H29.4M27.8 344.22H29.4M27.8 339.39H29.4M27.8 334.55H29.4M27.8 329.72H29.4M24.4 324.88H29.4M27.8 320.04H29.4M27.8 315.21H29.4M27.8 310.37H29.4M27.8 305.54H29.4M24.4 300.7H29.4M27.8 295.86H29.4M29.4 421.6V427.6M42.07 421.6V427.6M54.73 421.6V427.6M67.4 421.6V427.6M80.07 421.6V427.6M92.73 421.6V427.6M105.4 421.6V427.6M118.07 421.6V427.6M130.73 421.6V427.6M143.4 421.6V427.6M156.07 421.6V427.6M168.73 421.6V427.6M181.4 421.6V427.6" stroke="#7c7c7c" stroke-width="0.8" fill="none"/><g class="sm" font-size="6.1" fill="#222"><text x="20.35" y="423.75">0</text><text x="16.95" y="399.57">30</text><text x="16.95" y="375.39">60</text><text x="16.95" y="351.21">90</text><text x="13.56" y="327.03">120</text><text x="13.56" y="302.85">150</text></g><g class="sm" fill="#222"><text x="30.88" y="434.1" font-size="6.1" textLength="10.43" lengthAdjust="spacingAndGlyphs">Jan</text><text x="42.9" y="434.1" font-size="6.1" textLength="11.14" lengthAdjust="spacingAndGlyphs">Feb</text><text x="55.49" y="434.1" font-size="6.1" textLength="11.14" lengthAdjust="spacingAndGlyphs">Mar</text><text x="68.95" y="434.1" font-size="6.1" textLength="10.06" lengthAdjust="spacingAndGlyphs">Apr</text><text x="80.23" y="434.1" font-size="6.1" textLength="12.22" lengthAdjust="spacingAndGlyphs">May</text><text x="94.21" y="434.1" font-size="6.1" textLength="10.43" lengthAdjust="spacingAndGlyphs">Jun</text><text x="107.97" y="434.1" font-size="6.1" textLength="8.27" lengthAdjust="spacingAndGlyphs">Jul</text><text x="119.05" y="434.1" font-size="6.1" textLength="11.5" lengthAdjust="spacingAndGlyphs">Aug</text><text x="131.5" y="434.1" font-size="6.1" textLength="11.5" lengthAdjust="spacingAndGlyphs">Sep</text><text x="144.77" y="434.1" font-size="6.1" textLength="10.06" lengthAdjust="spacingAndGlyphs">Oct</text><text x="156.6" y="434.1" font-size="6.1" textLength="11.5" lengthAdjust="spacingAndGlyphs">Nov</text><text x="169.34" y="434.1" font-size="6.1" textLength="11.5" lengthAdjust="spacingAndGlyphs">Dec</text></g><text transform="translate(9.6 381.04) rotate(-90)" font-size="9" fill="#222">ET (mm)</text><g class="pl" fill="#222"><text x="31.36" y="302.54" font-size="8.4" textLength="10.68" lengthAdjust="spacingAndGlyphs">(g)</text></g><g fill="#222"><text transform="translate(157.31 303.3) scale(1 1.05)" font-size="9.8" textLength="21.36" lengthAdjust="spacingAndGlyphs">WET</text></g><g fill="#222"><text x="87" y="443.6" font-size="7.6" textLength="20.48" lengthAdjust="spacingAndGlyphs">Month</text></g><path d="M35.73 418.81 L48.4 414.07 L61.07 400.02 L73.73 386.36 L86.4 372.47 L99.07 358.82 L111.73 357.69 L124.4 366.37 L137.07 383.63 L149.73 404.43 L162.4 416.56 L175.07 420.82" stroke="#f7a73b" stroke-width="1.3" fill="none" stroke-linejoin="round"/><g fill="#ffffff" stroke="#f7a73b" stroke-width="1.1"><circle cx="35.73" cy="418.81" r="1.45"/><circle cx="48.4" cy="414.07" r="1.45"/><circle cx="61.07" cy="400.02" r="1.45"/><circle cx="73.73" cy="386.36" r="1.45"/><circle cx="86.4" cy="372.47" r="1.45"/><circle cx="99.07" cy="358.82" r="1.45"/><circle cx="111.73" cy="357.69" r="1.45"/><circle cx="124.4" cy="366.37" r="1.45"/><circle cx="137.07" cy="383.63" r="1.45"/><circle cx="149.73" cy="404.43" r="1.45"/><circle cx="162.4" cy="416.56" r="1.45"/><circle cx="175.07" cy="420.82" r="1.45"/></g><path d="M35.73 415.28 L48.4 410.62 L61.07 400.02 L73.73 380.74 L86.4 370.06 L99.07 347.09 L111.73 340.02 L124.4 348.3 L137.07 372.31 L149.73 400.1 L162.4 409.49 L175.07 416.08" stroke="#f2333a" stroke-width="1.3" fill="none" stroke-linejoin="round"/><g fill="#ffffff" stroke="#f2333a" stroke-width="1.1"><circle cx="35.73" cy="415.28" r="1.45"/><circle cx="48.4" cy="410.62" r="1.45"/><circle cx="61.07" cy="400.02" r="1.45"/><circle cx="73.73" cy="380.74" r="1.45"/><circle cx="86.4" cy="370.06" r="1.45"/><circle cx="99.07" cy="347.09" r="1.45"/><circle cx="111.73" cy="340.02" r="1.45"/><circle cx="124.4" cy="348.3" r="1.45"/><circle cx="137.07" cy="372.31" r="1.45"/><circle cx="149.73" cy="400.1" r="1.45"/><circle cx="162.4" cy="409.49" r="1.45"/><circle cx="175.07" cy="416.08" r="1.45"/></g><path d="M35.73 414.07 L48.4 410.62 L61.07 406.6 L73.73 396.48 L86.4 387.81 L99.07 373.59 L111.73 356.49 L124.4 360.02 L137.07 375.84 L149.73 394.88 L162.4 407.89 L175.07 413.83" stroke="#b6509e" stroke-width="1.3" fill="none" stroke-linejoin="round"/><g fill="#ffffff" stroke="#b6509e" stroke-width="1.1"><circle cx="35.73" cy="414.07" r="1.45"/><circle cx="48.4" cy="410.62" r="1.45"/><circle cx="61.07" cy="406.6" r="1.45"/><circle cx="73.73" cy="396.48" r="1.45"/><circle cx="86.4" cy="387.81" r="1.45"/><circle cx="99.07" cy="373.59" r="1.45"/><circle cx="111.73" cy="356.49" r="1.45"/><circle cx="124.4" cy="360.02" r="1.45"/><circle cx="137.07" cy="375.84" r="1.45"/><circle cx="149.73" cy="394.88" r="1.45"/><circle cx="162.4" cy="407.89" r="1.45"/><circle cx="175.07" cy="413.83" r="1.45"/></g><path d="M35.73 420.66 L48.4 420.66 L61.07 418.41 L73.73 416 L86.4 402.43 L99.07 390.14 L111.73 386.68 L124.4 390.22 L137.07 400.58 L149.73 409.49 L162.4 416.56 L175.07 420.82" stroke="#3f6db3" stroke-width="1.3" fill="none" stroke-linejoin="round"/><g fill="#ffffff" stroke="#3f6db3" stroke-width="1.1"><circle cx="35.73" cy="420.66" r="1.45"/><circle cx="48.4" cy="420.66" r="1.45"/><circle cx="61.07" cy="418.41" r="1.45"/><circle cx="73.73" cy="416" r="1.45"/><circle cx="86.4" cy="402.43" r="1.45"/><circle cx="99.07" cy="390.14" r="1.45"/><circle cx="111.73" cy="386.68" r="1.45"/><circle cx="124.4" cy="390.22" r="1.45"/><circle cx="137.07" cy="400.58" r="1.45"/><circle cx="149.73" cy="409.49" r="1.45"/><circle cx="162.4" cy="416.56" r="1.45"/><circle cx="175.07" cy="420.82" r="1.45"/></g><path d="M35.73 420.66 L48.4 419.53 L61.07 416.48 L73.73 409.41 L86.4 400.74 L99.07 396.48 L111.73 394.88 L124.4 396.08 L137.07 404.43 L149.73 412.62 L162.4 419.69 L175.07 421.3" stroke="#5ab545" stroke-width="1.3" fill="none" stroke-linejoin="round"/><g fill="#ffffff" stroke="#5ab545" stroke-width="1.1"><circle cx="35.73" cy="420.66" r="1.45"/><circle cx="48.4" cy="419.53" r="1.45"/><circle cx="61.07" cy="416.48" r="1.45"/><circle cx="73.73" cy="409.41" r="1.45"/><circle cx="86.4" cy="400.74" r="1.45"/><circle cx="99.07" cy="396.48" r="1.45"/><circle cx="111.73" cy="394.88" r="1.45"/><circle cx="124.4" cy="396.08" r="1.45"/><circle cx="137.07" cy="404.43" r="1.45"/><circle cx="149.73" cy="412.62" r="1.45"/><circle cx="162.4" cy="419.69" r="1.45"/><circle cx="175.07" cy="421.3" r="1.45"/></g></g>
<g><path d="M51.3 6.8H57.8" stroke="#f2333a" stroke-width="1.1"/><circle cx="54.5" cy="6.8" r="1.35" fill="#fff" stroke="#f2333a" stroke-width="1"/><g class="lg" fill="#222"><text x="58.53" y="8.75" font-size="5" textLength="6.35" lengthAdjust="spacingAndGlyphs">EC</text></g><path d="M51.3 12.35H57.8" stroke="#f7a73b" stroke-width="1.1"/><circle cx="54.5" cy="12.35" r="1.35" fill="#fff" stroke="#f7a73b" stroke-width="1"/><g class="lg" fill="#222"><text x="58.66" y="14.3" font-size="5" textLength="26.04" lengthAdjust="spacingAndGlyphs">GLEAM3.0a</text></g><path d="M51.3 17.9H57.8" stroke="#b6509e" stroke-width="1.1"/><circle cx="54.5" cy="17.9" r="1.35" fill="#fff" stroke="#b6509e" stroke-width="1"/><g class="lg" fill="#222"><text x="58.5" y="19.85" font-size="5" textLength="30.32" lengthAdjust="spacingAndGlyphs">MERRA-Land</text></g><path d="M51.3 23.45H57.8" stroke="#3f6db3" stroke-width="1.1"/><circle cx="54.5" cy="23.45" r="1.35" fill="#fff" stroke="#3f6db3" stroke-width="1"/><g class="lg" fill="#222"><text x="58.66" y="25.4" font-size="5" textLength="36.36" lengthAdjust="spacingAndGlyphs">GLDAS2.0-Noah</text></g><path d="M51.3 29H57.8" stroke="#5ab545" stroke-width="1.1"/><circle cx="54.5" cy="29" r="1.35" fill="#fff" stroke="#5ab545" stroke-width="1"/><g class="lg" fill="#222"><text x="58.5" y="30.95" font-size="5" textLength="41.22" lengthAdjust="spacingAndGlyphs">EartH2Observe-En</text></g></g>
</svg>
</body></html>
